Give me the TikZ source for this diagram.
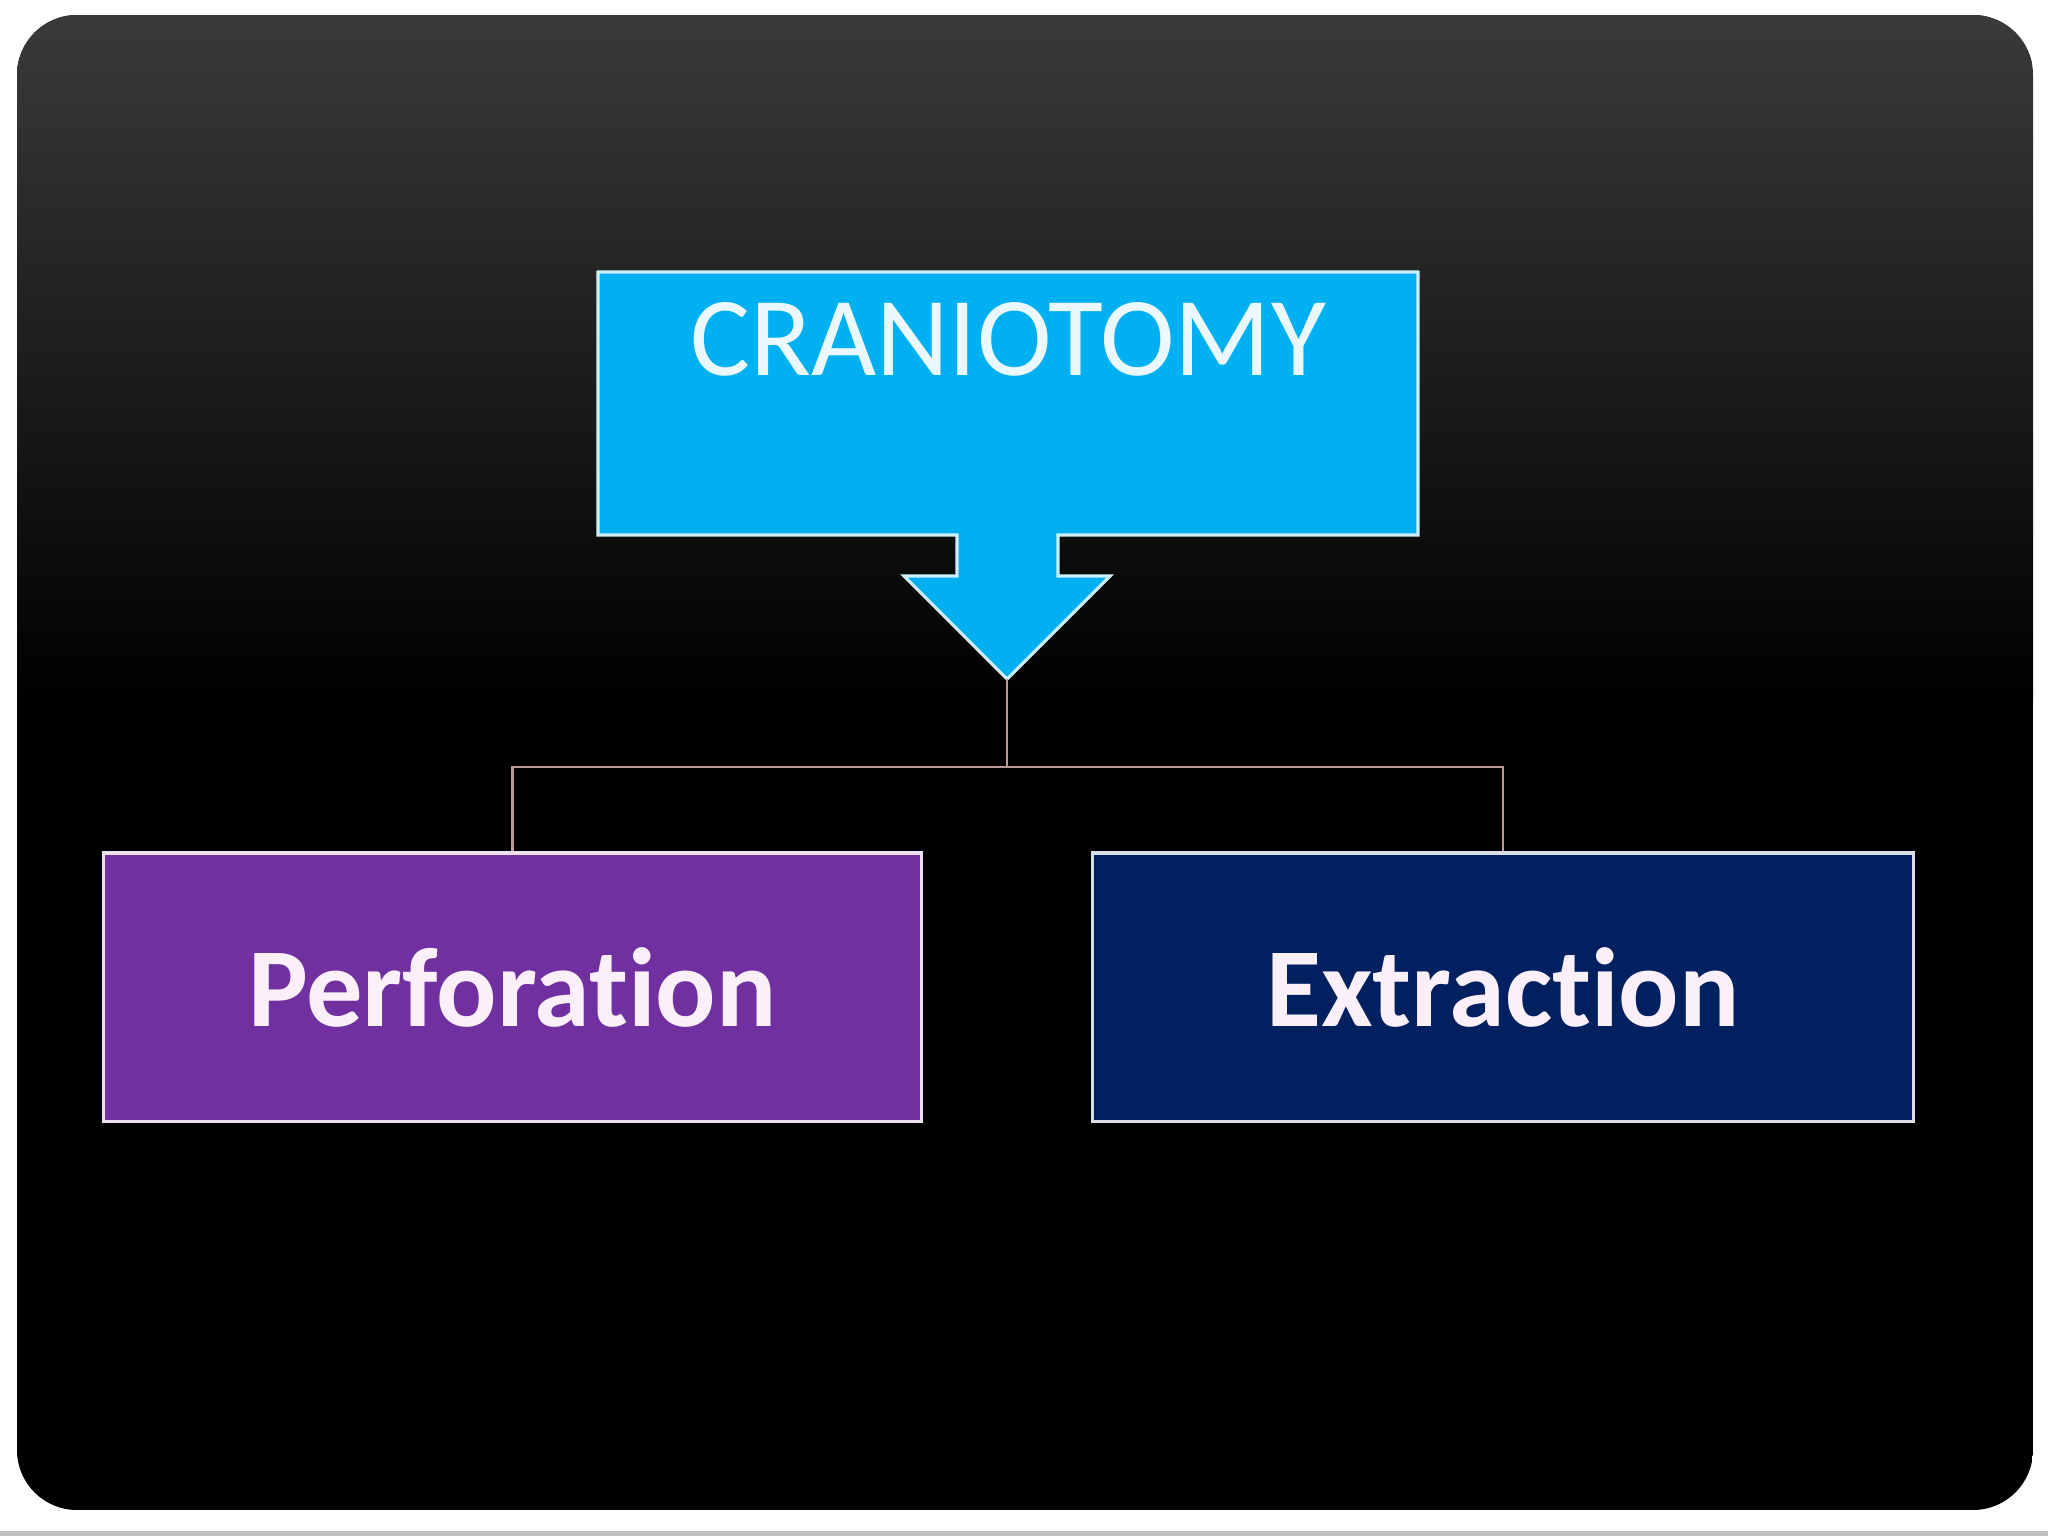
\documentclass[tikz,border=0pt]{standalone}
\usepackage{fontspec}
\setmainfont{Carlito}[Ligatures={NoCommon}]
\begin{document}
\begin{tikzpicture}[x=0.01cm,y=-0.01cm,
  boxline/.style={line width=0.9pt},
  conn/.style={draw=connc, line width=0.7pt},
  lbl/.style={text=txtc, inner sep=0pt, font=\fontsize{32}{38}\selectfont},
  lblb/.style={text=txtc, inner sep=0pt, font=\fontsize{32}{38}\selectfont\bfseries}]
\definecolor{cyanc}{HTML}{00B0F0}
\definecolor{purpc}{HTML}{7030A0}
\definecolor{navyc}{HTML}{002060}
\definecolor{connc}{HTML}{B89A98}
\definecolor{txtc}{HTML}{FBF0FA}
\definecolor{topg}{HTML}{3A3A3A}
\definecolor{stripg}{HTML}{C0C0C0}
\useasboundingbox (0,0) rectangle (2048,1536);
\fill[white] (0,0) rectangle (2048,1536);
\fill[stripg] (0,1531) rectangle (2048,1536);
% slide background
\begin{scope}
  \clip[rounded corners=60*0.01cm] (17,15) rectangle (2033,1510);
  \fill[black] (17,15) rectangle (2033,1510);
  \shade[top color=topg, bottom color=black] (17,15) rectangle (2033,700);
\end{scope}
% top box with arrow
\coordinate (tip) at (1007,679);
\coordinate (bus) at (1007,767);
\filldraw[fill=cyanc, draw=cyan!20!white, boxline]
  (598,272) -- (1418,272) -- (1418,535) -- (1058,535) -- (1058,576) -- (1110,576)
  -- (tip) -- (904,576) -- (957,576) -- (957,535) -- (598,535) -- cycle;
\node[lbl, anchor=base, text=cyan!8!white] (crani) at (1008,375) {CRANIOTOMY};
% bottom boxes
\node[draw=purpc!15!white, fill=purpc, boxline, minimum width=8.17cm, minimum height=2.68cm, inner sep=0pt] (perf) at (512.5,987) {};
\node[lblb] at (perf.center) {Perforation};
\node[draw=navyc!15!white, fill=navyc, boxline, minimum width=8.20cm, minimum height=2.68cm, inner sep=0pt] (extr) at (1503,987) {};
\node[lblb] at (extr.center) {Extraction};
% connectors
\draw[conn] (tip) -- (bus);
\draw[conn] (perf.north) |- (bus) -| (extr.north);
\end{tikzpicture}
\end{document}
